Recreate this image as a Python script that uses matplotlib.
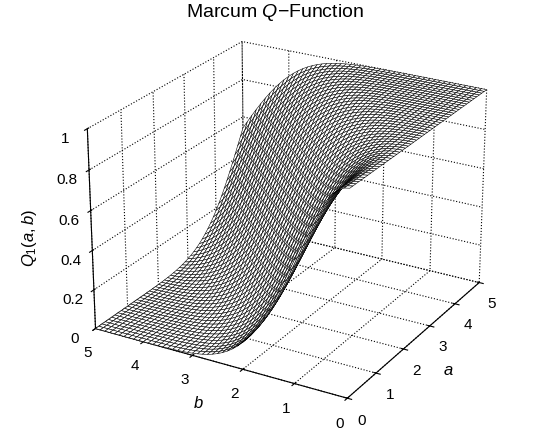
import numpy as np
import matplotlib
matplotlib.use("Agg")
import matplotlib.pyplot as plt

plt.rcParams['font.family'] = ['Liberation Sans', 'DejaVu Sans']
plt.rcParams['mathtext.fontset'] = 'custom'
plt.rcParams['mathtext.it'] = 'Liberation Sans:italic'
plt.rcParams['mathtext.rm'] = 'Liberation Sans'

a_vals = np.linspace(0, 5, 51)
b_vals = np.linspace(0, 5, 51)
z_ticks = [0, 0.2, 0.4, 0.6, 0.8, 1]
ab_ticks = [0, 1, 2, 3, 4, 5]

def marcum_q1(a, b):
    x = np.linspace(b, b + 40, 4000)
    f = x * np.exp(-(x**2 + a**2) / 2) * np.i0(a * x)
    return np.trapezoid(f, x)

A, B = np.meshgrid(a_vals, b_vals)
Q = np.vectorize(marcum_q1)(A, B)

fig = plt.figure(figsize=(5.5, 4.35), dpi=100)
ax = fig.add_axes([-0.04, 0.04, 1.12, 0.93], projection='3d')
ax.set_box_aspect((1, 1, 0.75), zoom=1.1)
ax.plot_surface(A, B, Q, color='white', edgecolor='black', linewidth=0.4,
                rstride=1, cstride=1, shade=False)
ax.view_init(elev=24, azim=-150)
ax.set_xlim(0, 5); ax.set_ylim(0, 5); ax.set_zlim(0, 1)
ax.set_xticks(ab_ticks); ax.set_yticks(ab_ticks); ax.set_zticks(z_ticks)
ax.set_zticklabels(['0', '0.2', '0.4', '0.6', '0.8', '1'])
ax.set_xlabel('$a$', fontsize=12, labelpad=-2)
ax.set_ylabel('$b$', fontsize=12, labelpad=-2)
ax.zaxis.set_rotate_label(False)
ax.set_zlabel('$Q_1(a,b)$', fontsize=12, rotation=90, labelpad=2)
for axis in (ax.xaxis, ax.yaxis, ax.zaxis):
    axis.pane.fill = False
    axis.pane.set_edgecolor('none')
    axis._axinfo['grid'].update(color='black', linestyle=':', linewidth=0.8)
ax.tick_params(labelsize=11, pad=0)
fig.suptitle('Marcum $Q$\u2212Function', fontsize=14, y=0.995)
fig.savefig('out.png', dpi=100)
